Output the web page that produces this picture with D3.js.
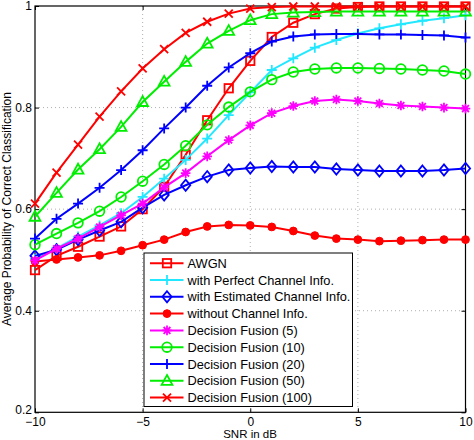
<!DOCTYPE html>
<html><head><meta charset="utf-8">
<script src="https://cdn.jsdelivr.net/npm/d3@7/dist/d3.min.js"></script>
<style>body{margin:0;background:#fff}svg{display:block}text{font-family:"Liberation Sans",Arial,sans-serif}</style>
</head><body><svg id="c" width="474" height="440"></svg>
<script>
const snr = [-10,-9,-8,-7,-6,-5,-4,-3,-2,-1,0,1,2,3,4,5,6,7,8,9,10];
const awgn      = [0.480,0.508,0.526,0.546,0.566,0.600,0.644,0.707,0.775,0.838,0.892,0.939,0.967,0.984,0.995,0.998,0.999,0.999,0.999,0.999,0.999];
const perfect   = [0.502,0.523,0.546,0.568,0.592,0.624,0.660,0.697,0.739,0.785,0.830,0.874,0.897,0.918,0.933,0.946,0.956,0.964,0.971,0.976,0.982];
const estimated = [0.508,0.520,0.540,0.558,0.575,0.603,0.628,0.647,0.664,0.677,0.681,0.684,0.683,0.683,0.679,0.677,0.675,0.675,0.675,0.677,0.680];
const without   = [0.497,0.501,0.505,0.509,0.518,0.529,0.540,0.555,0.566,0.569,0.568,0.565,0.557,0.548,0.542,0.540,0.537,0.538,0.539,0.540,0.540];
const df5       = [0.499,0.522,0.542,0.565,0.588,0.611,0.643,0.671,0.704,0.736,0.765,0.789,0.803,0.813,0.816,0.813,0.808,0.804,0.802,0.800,0.798];
const df10      = [0.530,0.552,0.573,0.596,0.624,0.655,0.688,0.725,0.766,0.801,0.831,0.855,0.870,0.876,0.878,0.878,0.877,0.876,0.874,0.872,0.866];
const df20      = [0.542,0.581,0.611,0.642,0.677,0.716,0.759,0.800,0.843,0.879,0.907,0.930,0.940,0.944,0.945,0.945,0.944,0.944,0.943,0.942,0.938];
const df50      = [0.585,0.632,0.678,0.718,0.762,0.811,0.851,0.890,0.926,0.951,0.972,0.984,0.987,0.988,0.989,0.989,0.989,0.989,0.989,0.989,0.989];
const df100     = [0.611,0.672,0.727,0.782,0.832,0.877,0.915,0.947,0.969,0.985,0.995,0.998,0.999,0.999,0.999,0.999,0.999,0.999,0.999,0.999,0.999];
const seriesNames = ["AWGN","with Perfect Channel Info.","with Estimated Channel Info.","without Channel Info.","Decision Fusion (5)","Decision Fusion (10)","Decision Fusion (20)","Decision Fusion (50)","Decision Fusion (100)"];
const xTicks = [-10,-5,0,5,10];
const yTicks = [0.2,0.4,0.6,0.8,1];
const yTickLabels = ["0.2","0.4","0.6","0.8","1"];
const xTickLabels = ["\u221210","\u22125","0","5","10"];

const seriesValues = [awgn,perfect,estimated,without,df5,df10,df20,df50,df100];
const styles = [
  {c:"#ff0000",m:"square"},
  {c:"#22e8ff",m:"plus"},
  {c:"#0000ff",m:"diamond"},
  {c:"#ff0000",m:"dot"},
  {c:"#ff00ff",m:"star"},
  {c:"#00ee00",m:"circle"},
  {c:"#0000ff",m:"plus"},
  {c:"#00ee00",m:"triangle"},
  {c:"#ff0000",m:"x"}
];

const L=35,R=465.5,T=6,B=412.3;
const x = d3.scaleLinear().domain([-10,10]).range([L,R]);
const y = d3.scaleLinear().domain([0.2,1]).range([B,T]);
const svg = d3.select("#c");

// grid
const g = svg.append("g");
xTicks.slice(1,-1).forEach(t=>g.append("line").attr("x1",x(t)).attr("x2",x(t)).attr("y1",T).attr("y2",B)
  .attr("stroke","#b0b0b0").attr("stroke-width",1).attr("stroke-dasharray","1,3"));
yTicks.slice(1,-1).forEach(t=>g.append("line").attr("x1",L).attr("x2",R).attr("y1",y(t)).attr("y2",y(t))
  .attr("stroke","#b0b0b0").attr("stroke-width",1).attr("stroke-dasharray","1,3"));

// axes
const ax = svg.append("g");
ax.append("g").attr("transform",`translate(0,${B})`).call(d3.axisBottom(x).tickValues(xTicks).tickSizeInner(-4).tickSizeOuter(0).tickFormat((d,i)=>xTickLabels[i]))
  .call(s=>{s.select(".domain").remove();s.selectAll("text").attr("y",5).attr("dy","0.71em").attr("font-size",12).attr("fill","#000");s.selectAll("line").attr("stroke","#000");});
ax.append("g").attr("transform",`translate(0,${T})`).call(d3.axisTop(x).tickValues(xTicks).tickSizeInner(-4).tickSizeOuter(0).tickFormat(""))
  .call(s=>{s.select(".domain").remove();s.selectAll("line").attr("stroke","#000");});
ax.append("g").attr("transform",`translate(${L},0)`).call(d3.axisLeft(y).tickValues(yTicks).tickSizeInner(-4).tickSizeOuter(0).tickFormat((d,i)=>yTickLabels[i]))
  .call(s=>{s.select(".domain").remove();s.selectAll("text").attr("x",-3).attr("font-size",12).attr("fill","#000")
      .attr("dy",(d,i)=>i===0?"0.1em":"0.32em");s.selectAll("line").attr("stroke","#000");});
ax.append("g").attr("transform",`translate(${R},0)`).call(d3.axisRight(y).tickValues(yTicks).tickSizeInner(-4).tickSizeOuter(0).tickFormat(""))
  .call(s=>{s.select(".domain").remove();s.selectAll("line").attr("stroke","#000");});
ax.append("rect").attr("x",L).attr("y",T).attr("width",R-L).attr("height",B-T).attr("fill","none").attr("stroke","#000").attr("stroke-width",1.2);

function marker(sel, type, c){
  const sw=1.8;
  if(type==="square") sel.append("rect").attr("x",-4.2).attr("y",-4.2).attr("width",8.4).attr("height",8.4).attr("fill","none").attr("stroke",c).attr("stroke-width",sw);
  else if(type==="circle") sel.append("circle").attr("r",4.8).attr("fill","none").attr("stroke",c).attr("stroke-width",sw);
  else if(type==="dot") sel.append("circle").attr("r",3.9).attr("fill",c).attr("stroke",c).attr("stroke-width",1);
  else if(type==="diamond") sel.append("path").attr("d","M0,-5.6L4.6,0L0,5.6L-4.6,0Z").attr("fill","none").attr("stroke",c).attr("stroke-width",sw);
  else if(type==="triangle") sel.append("path").attr("d","M0,-5.8L5.4,4L-5.4,4Z").attr("fill","none").attr("stroke",c).attr("stroke-width",sw);
  else if(type==="plus") sel.append("path").attr("d","M-5,0H5M0,-5V5").attr("stroke",c).attr("stroke-width",sw);
  else if(type==="x") sel.append("path").attr("d","M-4,-4L4,4M-4,4L4,-4").attr("stroke",c).attr("stroke-width",sw);
  else if(type==="star") sel.append("path").attr("d","M-4.8,0H4.8M0,-4.8V4.8M-3.4,-3.4L3.4,3.4M-3.4,3.4L3.4,-3.4").attr("stroke",c).attr("stroke-width",sw);
}

const line = d3.line().x((d,i)=>x(snr[i])).y(d=>y(d));
seriesValues.forEach((vals,k)=>{
  const st = styles[k];
  const sg = svg.append("g");
  sg.append("path").datum(vals).attr("d",line).attr("fill","none").attr("stroke",st.c).attr("stroke-width",2);
  vals.forEach((v,i)=>{
    const mg = sg.append("g").attr("transform",`translate(${x(snr[i])},${y(v)})`);
    marker(mg, st.m, st.c);
  });
});

// legend
const lg = svg.append("g");
lg.append("rect").attr("x",144).attr("y",253).attr("width",208.5).attr("height",153.5).attr("fill","#fff").attr("stroke","#000").attr("stroke-width",1);
seriesNames.forEach((n,k)=>{
  const cy = 263.2 + k*16.8;
  const st = styles[k];
  lg.append("line").attr("x1",150).attr("x2",183.5).attr("y1",cy).attr("y2",cy).attr("stroke",st.c).attr("stroke-width",2);
  marker(lg.append("g").attr("transform",`translate(167,${cy})`), st.m, st.c);
  lg.append("text").attr("x",187.5).attr("y",cy).attr("dy","0.36em").attr("font-size",12.8).text(n);
});

svg.append("text").attr("transform",`translate(11,209) rotate(-90)`).attr("text-anchor","middle").attr("font-size",12).text("Average Probability of Correct Classification");
svg.append("text").attr("x",250).attr("y",437.5).attr("text-anchor","middle").attr("font-size",11.5).text("SNR in dB");
</script></body></html>
